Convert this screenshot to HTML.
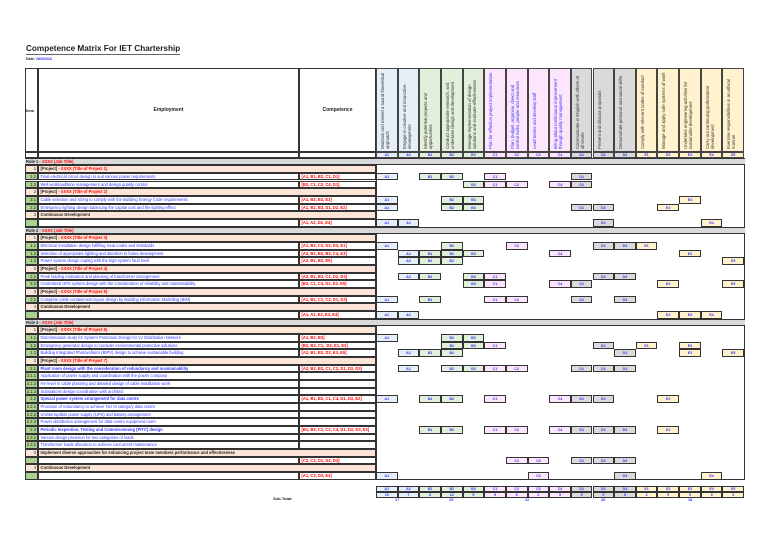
<!DOCTYPE html>
<html><head><meta charset="utf-8"><style>
*{margin:0;padding:0;box-sizing:border-box}
body{width:768px;height:543px;background:#fff;position:relative;overflow:hidden;font-family:"Liberation Sans",sans-serif}
.t{position:absolute;left:26px;top:44px;font-size:8.2px;font-weight:bold;color:#222;white-space:nowrap;border-bottom:1.6px solid #666;line-height:10px}
.d{position:absolute;left:26px;top:57px;font-size:3.6px;font-weight:bold;color:#222}
.d span{color:#33f}
.hd{position:absolute;top:68px;height:84px;border:1px solid #333;font-size:5px;font-weight:bold;color:#222;display:flex;align-items:center;justify-content:center}
.hc{position:absolute;top:68px;height:84px;width:21.65px;border:0.8px solid #444;font-size:4.3px;line-height:5px;color:#333;padding:2px 3px 3px 3px}
.hc div{writing-mode:vertical-rl;transform:rotate(180deg);height:78px;width:15px}
.cr{position:absolute;top:152px;height:5.5px;width:21.65px;border:0.8px solid #444;font-size:3.5px;line-height:4px;text-align:center;color:#33f;font-weight:bold}
.r{position:absolute;left:0;width:768px;height:7.67px}
.r>*{position:absolute;top:0;height:7.67px;font-size:4.1px;line-height:6.5px;white-space:nowrap;overflow:hidden}
.i{left:25px;width:13px;border:0.8px solid #333;text-align:right;padding-right:1px;color:#222;background:#a9d08e}
.e{left:38px;width:261px;border:0.8px solid #333;color:#33f;padding-left:1.5px;background:#fff}
.c{left:299px;width:77px;border:0.8px solid #333;color:#f00;font-weight:bold;padding-left:1.5px;background:#fff}
.p .i{background:#fce4d6}
.pe{left:38px;width:338px;border:0.8px solid #333;background:#fce4d6;font-weight:bold;color:#222;padding-left:1.5px}
.pe span{color:#f00}
.role{left:25px;width:720px;background:#d9d9d9;border-top:1.3px solid #333;border-bottom:1.3px solid #333;font-weight:bold;color:#222;padding-left:1px}
.role span{color:#f00;text-decoration:underline}
.b{font-weight:bold}
.m{width:21.65px;border:0.9px solid #333;color:#33f;text-align:center;font-size:3.6px!important;font-weight:bold;font-style:normal}
.a{background:#e6eef8}.g{background:#e2efda}.k{background:#fde6fc}.y{background:#dadada}.w{background:#fff2cc}
.c0{left:376px}.c1{left:397.65px}.c2{left:419.3px}.c3{left:440.95px}.c4{left:462.6px}.c5{left:484.25px}.c6{left:505.9px}.c7{left:527.55px}.c8{left:549.2px}.c9{left:570.85px}.c10{left:592.5px}.c11{left:614.15px}.c12{left:635.8px}.c13{left:657.45px}.c14{left:679.1px}.c15{left:700.75px}.c16{left:722.4px}
.frame{position:absolute;left:376px;top:157.5px;width:369px;height:322px;border:1.2px solid #333;border-top:none}
.st{position:absolute;height:6px;width:21.65px;border:0.9px solid #333;font-size:3.6px;line-height:4.5px;text-align:center;color:#33f;font-weight:bold}
.gs{position:absolute;top:498px;font-size:3.8px;font-weight:bold;color:#33f}
</style></head><body>
<div class="t">Competence Matrix For IET Chartership</div>
<div class="d">Date: <span>28/9/2023</span></div>

<div class="hd" style="left:25px;width:13px;justify-content:flex-start;font-size:4px">Item</div>
<div class="hd" style="left:38px;width:261px">Employment</div>
<div class="hd" style="left:299px;width:77px">Competence</div>

<div class="hc a c0"><div>Maintain and extend a sound theoretical approach</div></div>
<div class="hc a c1"><div>Engage in creative and innovative development</div></div>
<div class="hc g c2"><div>Identify potential projects and opportunities</div></div>
<div class="hc g c3"><div>Conduct appropriate research, and undertake design and development</div></div>
<div class="hc g c4"><div>Manage implementation of design solutions and evaluate effectiveness</div></div>
<div class="hc k c5" style="color:#33f"><div>Plan for effective project implementation</div></div>
<div class="hc k c6" style="color:#33f"><div>Plan, budget, organise, direct and control tasks, people and resources</div></div>
<div class="hc k c7" style="color:#33f"><div>Lead teams and develop staff</div></div>
<div class="hc k c8" style="color:#33f"><div>Bring about continuous improvement through quality management.</div></div>
<div class="hc y c9"><div>Communicate in English with others at all levels</div></div>
<div class="hc y c10"><div>Present and discuss proposals</div></div>
<div class="hc y c11"><div>Demonstrate personal and social skills</div></div>
<div class="hc w c12"><div>Comply with relevant codes of conduct</div></div>
<div class="hc w c13"><div>Manage and apply safe systems of work</div></div>
<div class="hc w c14"><div>Undertake engineering activities for sustainable development</div></div>
<div class="hc w c15"><div>Carry out continuing professional development</div></div>
<div class="hc w c16"><div>Exercise responsibilities in an ethical manner</div></div>

<div class="hd" style="top:152px;height:5.5px;left:25px;width:13px;border-width:0.8px"></div>
<div class="hd" style="top:152px;height:5.5px;left:38px;width:261px;border-width:0.8px"></div>
<div class="hd" style="top:152px;height:5.5px;left:299px;width:77px;border-width:0.8px"></div>
<div class="cr a c0">A1</div><div class="cr a c1">A2</div><div class="cr g c2">B1</div><div class="cr g c3">B2</div><div class="cr g c4">B3</div><div class="cr k c5">C1</div><div class="cr k c6">C2</div><div class="cr k c7">C3</div><div class="cr k c8">C4</div><div class="cr y c9">D1</div><div class="cr y c10">D2</div><div class="cr y c11">D3</div><div class="cr w c12">E1</div><div class="cr w c13">E2</div><div class="cr w c14">E3</div><div class="cr w c15">E4</div><div class="cr w c16">E5</div>

<div class="frame"></div>

<!-- Role 1 -->
<div class="r" style="top:157.5px"><div class="role">Role 1 - <span>XXXX (Job Title)</span></div></div>
<div class="r p" style="top:165.2px"><div class="i">1</div><div class="pe">[Project] - <span>XXXX (Title of Project 1)</span></div></div>
<div class="r" style="top:172.8px"><div class="i">1.1</div><div class="e">Final electrical circuit design to suit various power requirements</div><div class="c">[A1, B1, B2, C1, D1]</div>
<i class="m a c0">A1</i><i class="m g c2">B1</i><i class="m g c3">B2</i><i class="m k c5">C1</i><i class="m y c9">D1</i></div>
<div class="r" style="top:180.5px"><div class="i">1.2</div><div class="e">Well workload/time management and design quality control</div><div class="c">[B3, C1, C2, C4, D1]</div>
<i class="m g c4">B3</i><i class="m k c5">C1</i><i class="m k c6">C2</i><i class="m k c8">C4</i><i class="m y c9">D1</i></div>
<div class="r p" style="top:188.2px"><div class="i">2</div><div class="pe">[Project] - <span>XXXX (Title of Project 2)</span></div></div>
<div class="r" style="top:195.9px"><div class="i">2.1</div><div class="e">Cable selection and sizing to comply with the Building Energy Code requirements</div><div class="c">[A1, B2, B3, E3]</div>
<i class="m a c0">A1</i><i class="m g c3">B2</i><i class="m g c4">B3</i><i class="m w c14">E3</i></div>
<div class="r" style="top:203.5px"><div class="i">2.2</div><div class="e">Emergency lighting design balancing the capital cost and the lighting effect</div><div class="c">[A1, B2, B3, D1, D2, E2]</div>
<i class="m a c0">A1</i><i class="m g c3">B2</i><i class="m g c4">B3</i><i class="m y c9">D1</i><i class="m y c10">D2</i><i class="m w c13">E2</i></div>
<div class="r p" style="top:211.2px"><div class="i">3</div><div class="pe">Continuous Development</div></div>
<div class="r" style="top:218.9px"><div class="i"></div><div class="e"></div><div class="c">[A1, A2, D2, E4]</div>
<i class="m a c0">A1</i><i class="m a c1">A2</i><i class="m y c10">D2</i><i class="m w c15">E4</i></div>

<!-- Role 2 -->
<div class="r" style="top:226.5px"><div class="role">Role 2 - <span>XXXX (Job Title)</span></div></div>
<div class="r p" style="top:234.2px"><div class="i">1</div><div class="pe">[Project] - <span>XXXX (Title of Project 3)</span></div></div>
<div class="r" style="top:241.9px"><div class="i">1.1</div><div class="e">Electrical installation design fulfilling local codes and standards</div><div class="c">[A1, B2, C2, D2, D3, E1]</div>
<i class="m a c0">A1</i><i class="m g c3">B2</i><i class="m k c6">C2</i><i class="m y c10">D2</i><i class="m y c11">D3</i><i class="m w c12">E1</i></div>
<div class="r" style="top:249.5px"><div class="i">1.2</div><div class="e">Selection of appropriate lighting and attention to future development</div><div class="c">[A2, B1, B2, B3, C4, E3]</div>
<i class="m a c1">A2</i><i class="m g c2">B1</i><i class="m g c3">B2</i><i class="m g c4">B3</i><i class="m k c8">C4</i><i class="m w c14">E3</i></div>
<div class="r" style="top:257.2px"><div class="i">1.3</div><div class="e">Power system design coping with the high system fault level</div><div class="c">[A2, B1, B2, E5]</div>
<i class="m a c1">A2</i><i class="m g c2">B1</i><i class="m g c3">B2</i><i class="m w c16">E5</i></div>
<div class="r p" style="top:264.9px"><div class="i">2</div><div class="pe">[Project] - <span>XXXX (Title of Project 4)</span></div></div>
<div class="r" style="top:272.6px"><div class="i">2.1</div><div class="e">Peak loading estimation and planning of transformer arrangement</div><div class="c">[A2, B1, B3, C1, D2, D3]</div>
<i class="m a c1">A2</i><i class="m g c2">B1</i><i class="m g c4">B3</i><i class="m k c5">C1</i><i class="m y c10">D2</i><i class="m y c11">D3</i></div>
<div class="r" style="top:280.2px"><div class="i">2.2</div><div class="e">Centralized UPS system design with the consideration of reliability and maintainability</div><div class="c">[B3, C1, C4, D1, E2, E5]</div>
<i class="m g c4">B3</i><i class="m k c5">C1</i><i class="m k c8">C4</i><i class="m y c9">D1</i><i class="m w c13">E2</i><i class="m w c16">E5</i></div>
<div class="r p" style="top:287.9px"><div class="i">3</div><div class="pe">[Project] - <span>XXXX (Title of Project 5)</span></div></div>
<div class="r" style="top:295.6px"><div class="i">3.1</div><div class="e">Complete cable containment layout design by Building Information Modelling (BIM)</div><div class="c">[A1, B1, C1, C2, D1, D3]</div>
<i class="m a c0">A1</i><i class="m g c2">B1</i><i class="m k c5">C1</i><i class="m k c6">C2</i><i class="m y c9">D1</i><i class="m y c11">D3</i></div>
<div class="r p" style="top:303.2px"><div class="i">4</div><div class="pe">Continuous Development</div></div>
<div class="r" style="top:310.9px"><div class="i"></div><div class="e"></div><div class="c">[A1, A2, E2, E3, E4]</div>
<i class="m a c0">A1</i><i class="m a c1">A2</i><i class="m w c13">E2</i><i class="m w c14">E3</i><i class="m w c15">E4</i></div>

<!-- Role 3 -->
<div class="r" style="top:318.6px"><div class="role">Role 3 - <span>XXXX (Job Title)</span></div></div>
<div class="r p" style="top:326.2px"><div class="i">1</div><div class="pe">[Project] - <span>XXXX (Title of Project 6)</span></div></div>
<div class="r" style="top:333.9px"><div class="i">1.1</div><div class="e">Discrimination study for System Protection Design for LV Distribution Network</div><div class="c">[A1, B2, B3]</div>
<i class="m a c0">A1</i><i class="m g c3">B2</i><i class="m g c4">B3</i></div>
<div class="r" style="top:341.6px"><div class="i">1.2</div><div class="e">Emergency generator design to consider environmental protective solutions</div><div class="c">[B2, B3, C1,&nbsp; D2, E1, E3]</div>
<i class="m g c3">B2</i><i class="m g c4">B3</i><i class="m k c5">C1</i><i class="m y c10">D2</i><i class="m w c12">E1</i><i class="m w c14">E3</i></div>
<div class="r" style="top:349.2px"><div class="i">1.3</div><div class="e">Building Integrated Photovoltaics (BIPV) design to achieve sustainable building</div><div class="c">[A2, B1, B2, D3, E3, E5]</div>
<i class="m a c1">A2</i><i class="m g c2">B1</i><i class="m g c3">B2</i><i class="m y c11">D3</i><i class="m w c14">E3</i><i class="m w c16">E5</i></div>
<div class="r p" style="top:356.9px"><div class="i">2</div><div class="pe">[Project] - <span>XXXX (Title of Project 7)</span></div></div>
<div class="r" style="top:364.6px"><div class="i">2.1</div><div class="e b">Plant room design with the consideration of redundancy and maintainability</div><div class="c">[A2, B2, B3, C1, C2, D1, D2, D3]</div>
<i class="m a c1">A2</i><i class="m g c3">B2</i><i class="m g c4">B3</i><i class="m k c5">C1</i><i class="m k c6">C2</i><i class="m y c9">D1</i><i class="m y c10">D2</i><i class="m y c11">D3</i></div>
<div class="r" style="top:372.2px"><div class="i">2.1.1</div><div class="e">Application of power supply and coordination with the power company</div><div class="c"></div></div>
<div class="r" style="top:379.9px"><div class="i">2.1.2</div><div class="e">HV level in cable planning and detailed design of cable installation work</div><div class="c"></div></div>
<div class="r" style="top:387.6px"><div class="i">2.1.3</div><div class="e">Substations design coordination with architect</div><div class="c"></div></div>
<div class="r" style="top:395.3px"><div class="i">2.2</div><div class="e b">Special power system arrangement for data centre</div><div class="c">[A1, B1, B2, C1, C4, D1, D2, E2]</div>
<i class="m a c0">A1</i><i class="m g c2">B1</i><i class="m g c3">B2</i><i class="m k c5">C1</i><i class="m k c8">C4</i><i class="m y c9">D1</i><i class="m y c10">D2</i><i class="m w c13">E2</i></div>
<div class="r" style="top:402.9px"><div class="i">2.2.1</div><div class="e">Provision of redundancy to achieve Tier III category data centre</div><div class="c"></div></div>
<div class="r" style="top:410.6px"><div class="i">2.2.2</div><div class="e">Uninterruptible power supply (UPS) and battery arrangement</div><div class="c"></div></div>
<div class="r" style="top:418.3px"><div class="i">2.2.3</div><div class="e">Power distribution arrangement for data centre equipment room</div><div class="c"></div></div>
<div class="r" style="top:425.9px"><div class="i">2.3</div><div class="e b">Periodic Inspection, Testing and Commissioning (PITC) design</div><div class="c">[B1, B2, C1, C2, C4, D1, D2, D3, E2]</div>
<i class="m g c2">B1</i><i class="m g c3">B2</i><i class="m k c5">C1</i><i class="m k c6">C2</i><i class="m k c8">C4</i><i class="m y c9">D1</i><i class="m y c10">D2</i><i class="m y c11">D3</i><i class="m w c13">E2</i></div>
<div class="r" style="top:433.6px"><div class="i">2.3.1</div><div class="e">Various design provision for two categories of loads</div><div class="c"></div></div>
<div class="r" style="top:441.3px"><div class="i">2.3.2</div><div class="e">Transformer loads allocation to achieve concurrent maintenance</div><div class="c"></div></div>
<div class="r p" style="top:448.9px"><div class="i">3</div><div class="pe">Implement diverse approaches for enhancing project team members performance and effectiveness</div></div>
<div class="r" style="top:456.6px"><div class="i"></div><div class="e"></div><div class="c">[C2, C3, D1, D2, D3]</div>
<i class="m k c6">C2</i><i class="m k c7">C3</i><i class="m y c9">D1</i><i class="m y c10">D2</i><i class="m y c11">D3</i></div>
<div class="r p" style="top:464.3px"><div class="i">4</div><div class="pe">Continuous Development</div></div>
<div class="r" style="top:471.9px"><div class="i"></div><div class="e"></div><div class="c">[A1, C3, D3, E4]</div>
<i class="m a c0">A1</i><i class="m k c7">C3</i><i class="m y c11">D3</i><i class="m w c15">E4</i></div>

<div style="position:absolute;left:25px;top:479px;width:720px;height:1.2px;background:#333"></div>

<!-- Sub-total -->
<div style="position:absolute;left:273px;top:496px;font-size:4px;font-weight:bold;color:#222">Sub-Total:</div>
<div class="st a c0" style="top:486px">A1</div><div class="st a c1" style="top:486px">A2</div><div class="st g c2" style="top:486px">B1</div><div class="st g c3" style="top:486px">B2</div><div class="st g c4" style="top:486px">B3</div><div class="st k c5" style="top:486px">C1</div><div class="st k c6" style="top:486px">C2</div><div class="st k c7" style="top:486px">C3</div><div class="st k c8" style="top:486px">C4</div><div class="st y c9" style="top:486px">D1</div><div class="st y c10" style="top:486px">D2</div><div class="st y c11" style="top:486px">D3</div><div class="st w c12" style="top:486px">E1</div><div class="st w c13" style="top:486px">E2</div><div class="st w c14" style="top:486px">E3</div><div class="st w c15" style="top:486px">E4</div><div class="st w c16" style="top:486px">E5</div>
<div class="st a c0" style="top:492px">10</div><div class="st a c1" style="top:492px">7</div><div class="st g c2" style="top:492px">8</div><div class="st g c3" style="top:492px">12</div><div class="st g c4" style="top:492px">9</div><div class="st k c5" style="top:492px">9</div><div class="st k c6" style="top:492px">6</div><div class="st k c7" style="top:492px">2</div><div class="st k c8" style="top:492px">5</div><div class="st y c9" style="top:492px">9</div><div class="st y c10" style="top:492px">9</div><div class="st y c11" style="top:492px">8</div><div class="st w c12" style="top:492px">2</div><div class="st w c13" style="top:492px">5</div><div class="st w c14" style="top:492px">5</div><div class="st w c15" style="top:492px">3</div><div class="st w c16" style="top:492px">3</div>
<div class="gs" style="left:395px">17</div>
<div class="gs" style="left:449px">29</div>
<div class="gs" style="left:525px">22</div>
<div class="gs" style="left:601px">26</div>
<div class="gs" style="left:688px">18</div>
</body></html>
